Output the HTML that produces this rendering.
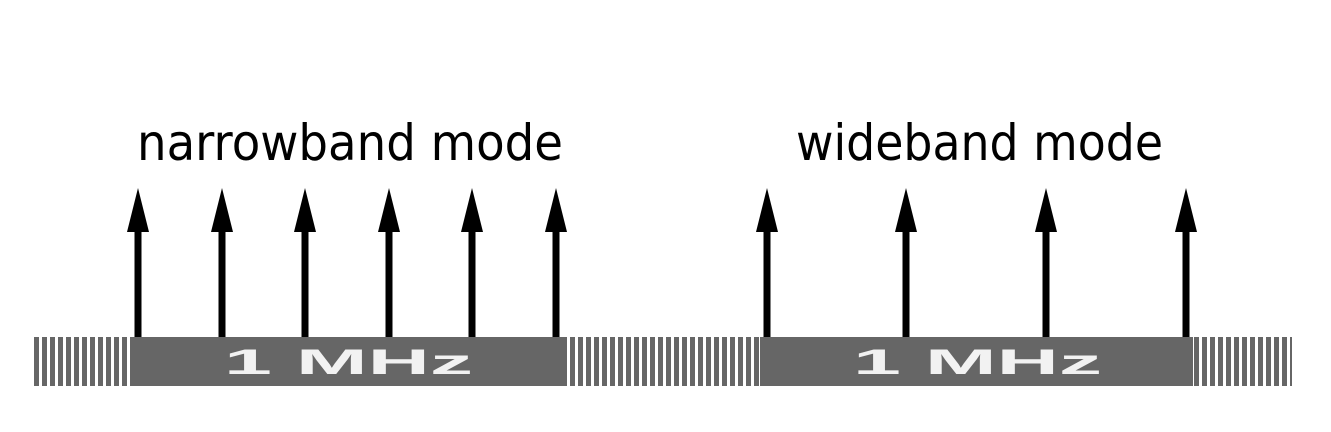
<!DOCTYPE html>
<html><head><meta charset="utf-8"><style>html,body{margin:0;padding:0;background:#fff}</style></head>
<body>
<svg width="1331" height="427" viewBox="0 0 1331 427" xmlns="http://www.w3.org/2000/svg">
<defs>
<pattern id="st" x="34" y="0" width="8" height="10" patternUnits="userSpaceOnUse">
<rect x="0" y="0" width="5" height="10" fill="#666"/>
</pattern>
<g id="a"><rect x="-3.5" y="230" width="7" height="107"/><polygon points="0,188 -11,232 11,232"/></g>
</defs>
<rect x="34" y="337" width="96" height="49" fill="url(#st)"/>
<rect x="566" y="337" width="194" height="49" fill="url(#st)"/>
<rect x="1194" y="337" width="98" height="49" fill="url(#st)"/>
<rect x="130" y="337" width="436" height="49" fill="#666"/>
<rect x="760" y="337" width="433" height="49" fill="#666"/>
<g font-family="Liberation Sans, sans-serif" font-weight="bold" font-size="35" fill="#f2f2f2">
<text x="224" y="374" textLength="249" lengthAdjust="spacingAndGlyphs">1 MHz</text>
<text x="853" y="374" textLength="249" lengthAdjust="spacingAndGlyphs">1 MHz</text>
</g>
<g font-family="DejaVu Sans, Liberation Sans, sans-serif" font-size="50" fill="#000">
<text x="137" y="160" textLength="426" lengthAdjust="spacingAndGlyphs">narrowband mode</text>
<text x="796" y="160" textLength="367" lengthAdjust="spacingAndGlyphs">wideband mode</text>
</g>
<g fill="#000">
<use href="#a" transform="translate(138,0)"/>
<use href="#a" transform="translate(222,0)"/>
<use href="#a" transform="translate(305,0)"/>
<use href="#a" transform="translate(389,0)"/>
<use href="#a" transform="translate(472,0)"/>
<use href="#a" transform="translate(556,0)"/>
<use href="#a" transform="translate(767,0)"/>
<use href="#a" transform="translate(906,0)"/>
<use href="#a" transform="translate(1046,0)"/>
<use href="#a" transform="translate(1186,0)"/>
</g>
</svg>
</body></html>
